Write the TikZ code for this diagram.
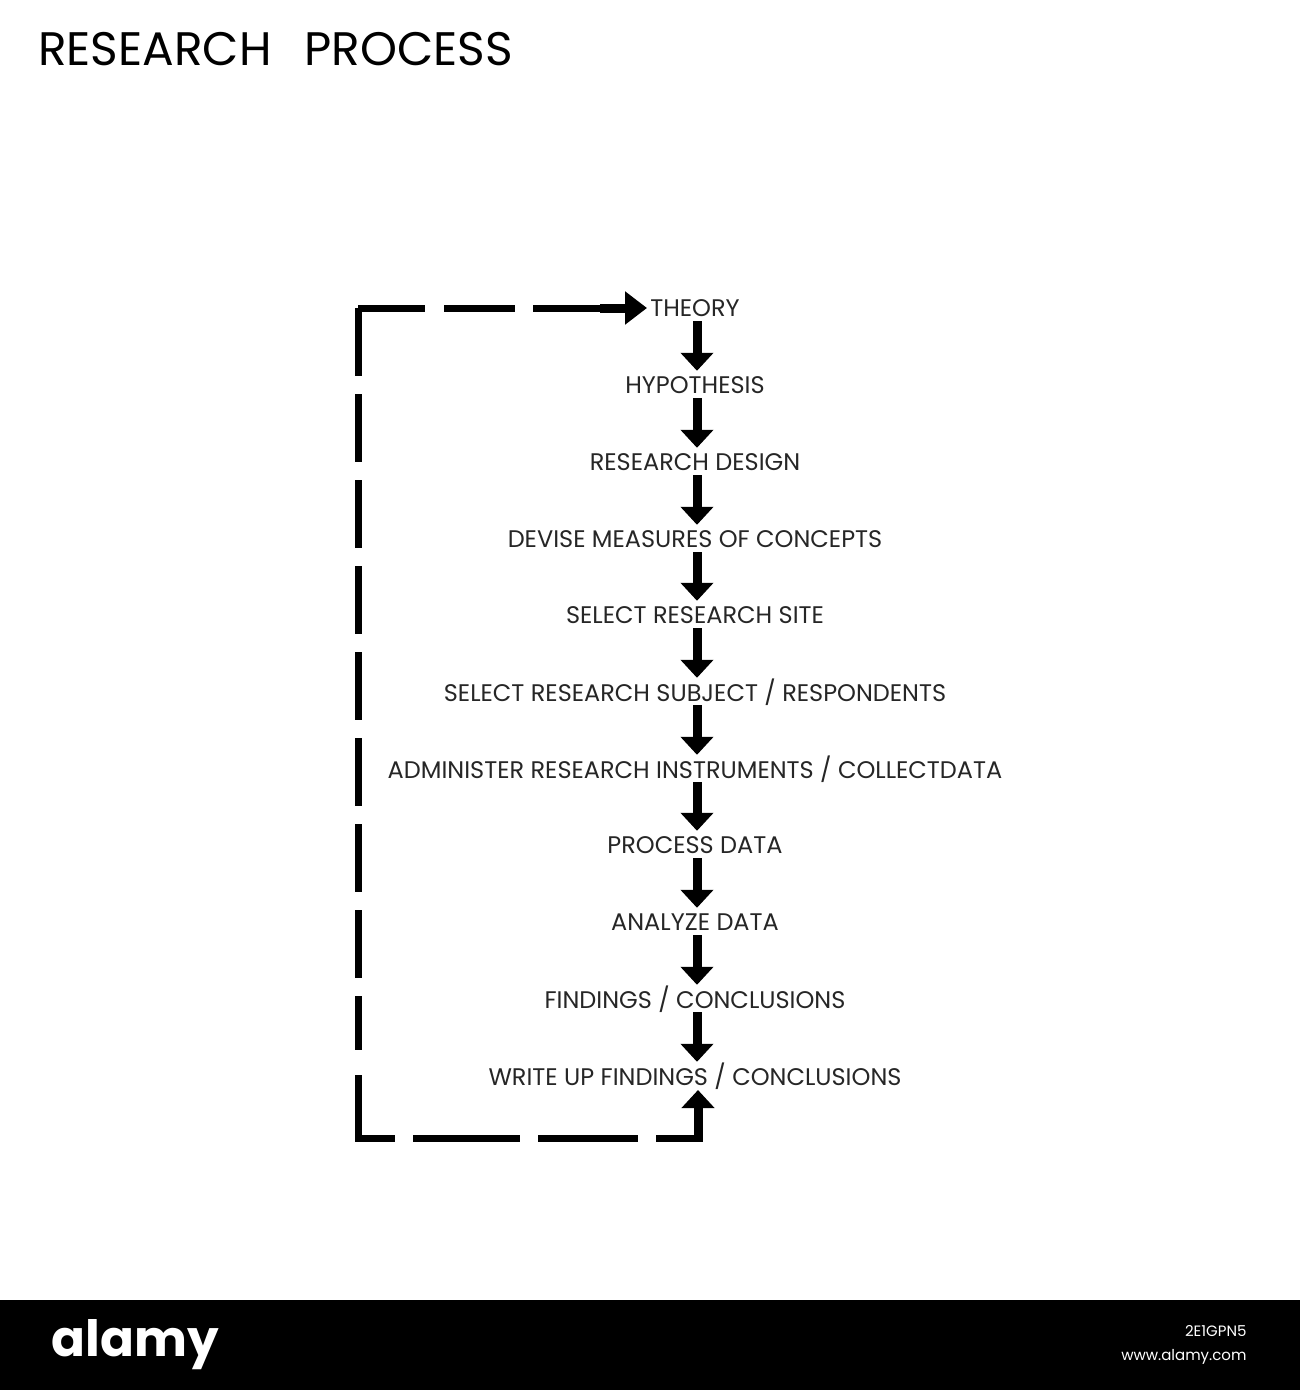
\documentclass[tikz,border=0pt]{standalone}
\usepackage{fontspec}
\setmainfont{Poppins}
\usetikzlibrary{arrows.meta}
\begin{document}
\begin{tikzpicture}[x=1pt,y=-1pt,
  lbl/.style={font=\fontsize{24}{24}\selectfont, inner sep=0pt, minimum height=30pt, text=black!85},
  fat/.style={line width=9pt, -{Triangle[width=32pt,length=18pt]}},
  loop/.style={line width=7pt, dash pattern=on 68pt off 18pt, line join=miter}]
\useasboundingbox (0,0) rectangle (1300,1390);
\fill[white] (0,0) rectangle (1300,1390);
\node[anchor=base west, font=\fontsize{47}{47}\selectfont, inner sep=0pt] (title) at (38,65) {RESEARCH\hspace{0.7em}PROCESS};
\foreach \n/\y/\t in {1/308/{THEORY},2/385/{HYPOTHESIS},3/462/{RESEARCH DESIGN},4/539/{DEVISE MEASURES OF CONCEPTS},5/615/{SELECT RESEARCH SITE},6/692/{SELECT RESEARCH SUBJECT / RESPONDENTS},7/769/{ADMINISTER RESEARCH INSTRUMENTS / COLLECTDATA},8/845/{PROCESS DATA},9/922/{ANALYZE DATA},10/999/{FINDINGS / CONCLUSIONS},11/1076/{WRITE UP FINDINGS / CONCLUSIONS}}
  \node[lbl] (n\n) at (695,\y) {\t};
\foreach \a/\b in {1/2,2/3,3/4,4/5,5/6,6/7,7/8,8/9,9/10,10/11}
  \draw[fat] ([yshift=2pt]n\a.south -| 697,0) -- ([yshift=-1pt]n\b.north -| 697,0);
\coordinate (tl) at (358,308);
\coordinate (bl) at (358,1138);
\coordinate (br) at (703,1138);
\coordinate (ah) at (647,308);
\coordinate (up) at (698,1090);
\draw[loop, dash pattern=on 67pt off 19pt on 71pt off 18pt] (tl) -- (607,308);
\draw[loop] (tl) -- (358,1050);
\draw[loop, dash pattern=on 100pt off 18pt on 107pt off 18pt] (358,1075) -- (bl) -- (br);
\draw[line width=9pt, -{Triangle[width=32pt,length=22pt]}] (600,308) -- (ah);
\draw[line width=9pt, -{Triangle[width=32pt,length=18pt]}] (698,1135) -- (up);
\fill[black] (0,1300) rectangle (1300,1390);
\node[anchor=west, text=white, font=\fontsize{50}{50}\selectfont\bfseries] (al) at (48,1345) {alamy};
\node[anchor=east, text=white, font=\fontsize{15}{15}\selectfont] (id) at (1250,1331) {2E1GPN5};
\node[anchor=east, text=white, font=\fontsize{15}{15}\selectfont] (www) at (1250,1357) {www.alamy.com};
\end{tikzpicture}
\end{document}
